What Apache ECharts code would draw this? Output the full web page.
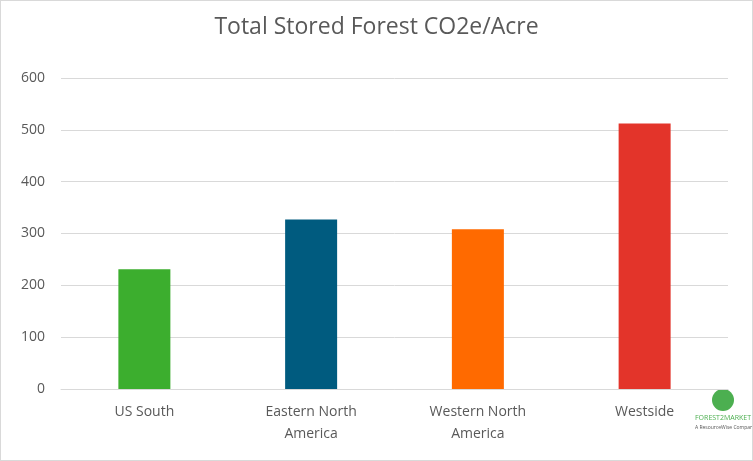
<!DOCTYPE html>
<html>
<head>
    <meta charset="utf-8">
    <script src="https://cdn.jsdelivr.net/npm/echarts@6/dist/echarts.min.js"></script>
    <style>
        body { margin: 0; }
        #main { width: 751px; height: 459px; border: 1px solid #d9d9d9; }
    </style>
</head>
<body>
    <div id="main"></div>
    <script>
        var categories = ['US South', 'Eastern North\nAmerica', 'Western North\nAmerica', 'Westside']
        var values = [231, 327, 308, 512]
        var colors = ['#3cae2e', '#005b7f', '#ff6a00', '#e3342a']

        var myChart = echarts.init(document.querySelector('#main'))
        var font = 'Open Sans'

        var option = {
            animation: false,
            title: {
                text: 'Total Stored Forest CO2e/Acre',
                left: 'center',
                top: 10,
                textStyle: { fontFamily: font, fontSize: 23, fontWeight: 'normal', color: '#595959' }
            },
            grid: { left: 60, right: 24, top: 77, bottom: 71 },
            xAxis: {
                type: 'category',
                data: categories,
                axisLine: { lineStyle: { color: '#d9d9d9' } },
                axisTick: { show: false },
                axisLabel: { fontFamily: font, fontSize: 14, color: '#595959', lineHeight: 22, margin: 12 }
            },
            yAxis: {
                type: 'value',
                min: 0,
                max: 600,
                interval: 100,
                axisLabel: { fontFamily: font, fontSize: 14, color: '#595959', margin: 16 },
                splitLine: { lineStyle: { color: '#d9d9d9' } }
            },
            series: [{
                type: 'bar',
                barWidth: 52,
                data: values.map(function (v, i) {
                    return { value: v, itemStyle: { color: colors[i] } }
                })
            }],
            graphic: [
                { type: 'circle', left: 711, top: 388, shape: { r: 11 }, style: { fill: '#4caf50' } },
                { type: 'text', left: 694, top: 413, style: { text: 'FOREST2MARKET', fontSize: 7, fill: '#4caf50', fontFamily: font } },
                { type: 'text', left: 694, top: 424, style: { text: 'A ResourceWise Company', fontSize: 5, fill: '#555', fontFamily: font } }
            ]
        }
        myChart.setOption(option)
    </script>
</body>
</html>
